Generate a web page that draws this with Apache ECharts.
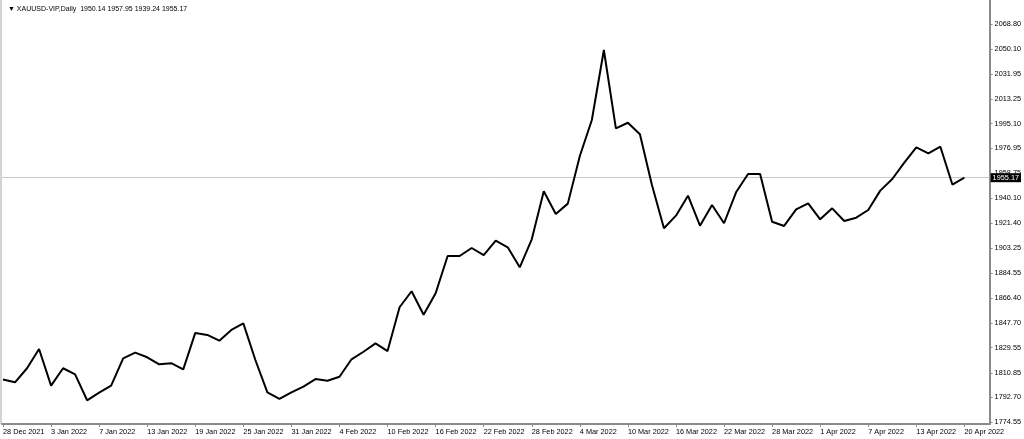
<!DOCTYPE html>
<html>
<head>
<meta charset="utf-8">
<script src="https://cdn.jsdelivr.net/npm/echarts@6/dist/echarts.min.js"></script>
<style>
html,body{margin:0;padding:0;background:#fff;}
#c{width:1024px;height:439px;}
</style>
</head>
<body>
<div id="c"></div>
<script>
// Trading days (daily bars)
const dates = [
 "28 Dec 2021","29 Dec 2021","30 Dec 2021","31 Dec 2021",
 "3 Jan 2022","4 Jan 2022","5 Jan 2022","6 Jan 2022","7 Jan 2022",
 "10 Jan 2022","11 Jan 2022","12 Jan 2022","13 Jan 2022","14 Jan 2022",
 "17 Jan 2022","18 Jan 2022","19 Jan 2022","20 Jan 2022","21 Jan 2022",
 "24 Jan 2022","25 Jan 2022","26 Jan 2022","27 Jan 2022","28 Jan 2022",
 "31 Jan 2022","1 Feb 2022","2 Feb 2022","3 Feb 2022","4 Feb 2022",
 "7 Feb 2022","8 Feb 2022","9 Feb 2022","10 Feb 2022","11 Feb 2022",
 "14 Feb 2022","15 Feb 2022","16 Feb 2022","17 Feb 2022","18 Feb 2022",
 "21 Feb 2022","22 Feb 2022","23 Feb 2022","24 Feb 2022","25 Feb 2022",
 "28 Feb 2022","1 Mar 2022","2 Mar 2022","3 Mar 2022","4 Mar 2022",
 "7 Mar 2022","8 Mar 2022","9 Mar 2022","10 Mar 2022","11 Mar 2022",
 "14 Mar 2022","15 Mar 2022","16 Mar 2022","17 Mar 2022","18 Mar 2022",
 "21 Mar 2022","22 Mar 2022","23 Mar 2022","24 Mar 2022","25 Mar 2022",
 "28 Mar 2022","29 Mar 2022","30 Mar 2022","31 Mar 2022","1 Apr 2022",
 "4 Apr 2022","5 Apr 2022","6 Apr 2022","7 Apr 2022","8 Apr 2022",
 "11 Apr 2022","12 Apr 2022","13 Apr 2022","14 Apr 2022",
 "18 Apr 2022","19 Apr 2022","20 Apr 2022"
];
// Close prices
const closes = [
 1806.0,1803.9,1814.3,1828.5,
 1801.4,1814.3,1809.8,1790.6,1796.2,
 1801.4,1821.6,1825.8,1822.4,1817.2,
 1818.0,1813.5,1840.4,1838.9,1834.7,
 1842.6,1847.5,1820.4,1796.5,1791.6,
 1796.5,1800.7,1806.3,1805.1,1808.0,
 1820.9,1826.5,1832.7,1827.0,1859.4,
 1871.2,1853.9,1869.7,1897.3,1897.3,
 1903.2,1898.0,1908.6,1903.7,1888.9,
 1909.6,1945.1,1928.3,1936.0,1971.2,
 1997.8,2049.6,1991.7,1995.8,1987.3,
 1949.8,1917.8,1927.1,1941.9,1919.7,
 1935.0,1921.5,1944.4,1957.9,1957.9,
 1922.6,1919.5,1931.8,1936.2,1924.4,
 1932.5,1923.2,1925.6,1931.3,1945.6,
 1954.2,1966.3,1977.6,1973.2,1978.1,
 1950.1,1955.17
];
// Price axis tick labels
const priceTicks = [1774.55,1792.70,1810.85,1829.55,1847.70,1866.40,1884.55,1903.25,1921.40,1940.10,1958.75,1976.95,1995.10,2013.25,2031.95,2050.10,2068.80];
// Date tick positions (bar indices)
const dateTickIdx = [0,4,8,12,16,20,24,28,32,36,40,44,48,52,56,60,64,68,72,76,80];
const titleText = "XAUUSD-VIP,Daily  1950.14 1957.95 1939.24 1955.17";

const lastClose = closes[closes.length - 1];
const FONT = "Liberation Sans";
const chart = echarts.init(document.getElementById('c'), null, {renderer: 'canvas'});
chart.setOption({
  animation: false,
  backgroundColor: '#fff',
  title: {
    text: '\u25BC ' + titleText,
    left: 3, top: 1,
    textStyle: {fontSize: 7, fontWeight: 'normal', color: '#000', fontFamily: FONT}
  },
  graphic: [{
    type: 'line', silent: true,
    shape: {x1: 1, y1: 0, x2: 1, y2: 424},
    style: {stroke: '#a8a8a8', lineWidth: 1}
  }],
  grid: {left: 1, right: 32, top: 0, bottom: 15, containLabel: false},
  xAxis: {
    type: 'value',
    min: -0.083, max: 82.1,
    splitLine: {show: false},
    axisLine: {show: true, onZero: false, lineStyle: {color: '#8a8a8a', width: 2}},
    axisTick: {show: true, length: 3, customValues: dateTickIdx, lineStyle: {color: '#8a8a8a'}},
    axisLabel: {
      customValues: dateTickIdx,
      align: 'left', margin: 4,
      fontSize: 7.3, color: '#000', fontFamily: FONT,
      formatter: v => dates[Math.round(v)] || ''
    }
  },
  yAxis: {
    type: 'value',
    position: 'right',
    min: 1773.07, max: 2086.55,
    splitLine: {show: false},
    axisLine: {show: true, onZero: false, lineStyle: {color: '#8a8a8a', width: 2}},
    axisTick: {show: true, inside: false, length: 3, customValues: priceTicks, lineStyle: {color: '#8a8a8a'}},
    axisLabel: {
      customValues: priceTicks,
      margin: 5, fontSize: 7.3, color: '#000', fontFamily: FONT,
      formatter: v => v.toFixed(2)
    }
  },
  series: [{
    type: 'line',
    data: closes.map((v, i) => [i, v]),
    showSymbol: false,
    symbol: 'none',
    lineStyle: {color: '#000', width: 2},
    z: 3,
    markLine: {
      silent: true,
      symbol: 'none',
      data: [{yAxis: lastClose}],
      lineStyle: {color: '#c8c8c8', width: 1, type: 'solid'},
      label: {
        show: true, position: 'end', distance: 1,
        formatter: lastClose.toFixed(2),
        color: '#fff', backgroundColor: '#000',
        padding: [1, 2, 1, 2], fontSize: 7.3, fontFamily: FONT
      },
      z: 1
    }
  }]
});
</script>
</body>
</html>
